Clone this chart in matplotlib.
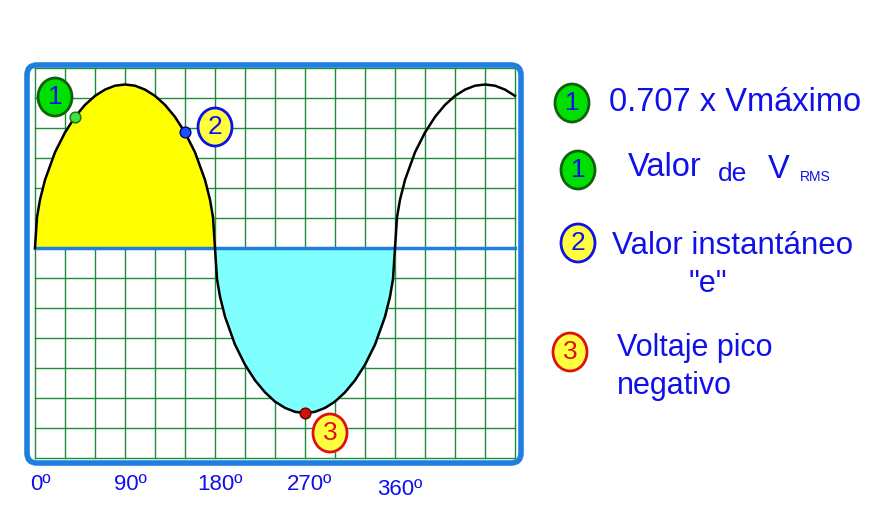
import matplotlib.pyplot as plt
import numpy as np
from matplotlib.patches import Ellipse, FancyBboxPatch

plt.rcParams['font.family'] = ['Liberation Sans', 'DejaVu Sans']

# wave samples (degrees, grid squares), denser near the zero crossings
deg = [0, 2, 5, 10, 20, 30, 40, 50, 60, 70, 80, 90,
       100, 110, 120, 130, 140, 150, 160, 170, 175, 178, 180,
       182, 185, 190, 200, 210, 220, 230, 240, 250, 260, 270,
       280, 290, 300, 310, 320, 330, 340, 350, 355, 358, 360,
       362, 365, 370, 380, 390, 400, 410, 420, 430, 440, 450,
       460, 470, 480]
volt = [0, 1.02, 1.61, 2.27, 3.19, 3.85, 4.37, 4.77, 5.07, 5.28, 5.41, 5.45,
        5.41, 5.28, 5.07, 4.77, 4.37, 3.85, 3.19, 2.27, 1.61, 1.02, 0,
        -1.03, -1.62, -2.29, -3.22, -3.89, -4.41, -4.81, -5.12, -5.33, -5.46, -5.5,
        -5.46, -5.33, -5.12, -4.81, -4.41, -3.89, -3.22, -2.29, -1.62, -1.03, 0,
        1.02, 1.61, 2.27, 3.19, 3.85, 4.37, 4.77, 5.07, 5.28, 5.41, 5.45,
        5.41, 5.28, 5.07]
tick_pos = [0, 90, 180, 270, 360]
tick_lab = ['0º', '90º', '180º', '270º', '360º']

deg = np.array(deg)
volt = np.array(volt)
BLUE = '#1010E8'

fig = plt.figure(figsize=(8.84, 5.18), dpi=100)
ax = fig.add_axes([0, 0, 1, 1])
ax.set_xlim(-35, 849)
ax.set_ylim(-9, 248 / 30)
ax.axis('off')

def px(x, y):
    return x - 35, (248 - y) / 30

# frame
ax.add_patch(FancyBboxPatch(px(27, 463), 494, (463 - 65) / 30,
                            boxstyle='round,pad=0,rounding_size=10',
                            mutation_aspect=1 / 30, fill=False,
                            ec='#1E7FE0', lw=4, zorder=6))
for gx in range(0, 481, 30):
    ax.plot([gx, gx], [-7, 6], color='#1E8C3A', lw=1, zorder=1)
for gy in range(-7, 7):
    ax.plot([0, 480], [gy, gy], color='#1E8C3A', lw=1, zorder=1)

m = deg <= 180
ax.fill_between(deg[m], volt[m], 0, color='#FFFF00', zorder=2)
m = (deg >= 180) & (deg <= 360)
ax.fill_between(deg[m], volt[m], 0, color='#80FFFF', zorder=2)
ax.plot([0, 480], [0, 0], color='#1E7FE0', lw=2.5, zorder=3)
ax.plot(deg, volt, color='black', lw=1.8, zorder=4)

i1 = list(deg).index(40)
i2 = list(deg).index(150)
i3 = list(deg).index(270)
ax.scatter([deg[i1]], [volt[i1]], s=60, c='#40E040', ec='#107010', zorder=5)
ax.scatter([deg[i2]], [volt[i2]], s=60, c='#1E50FF', ec='#000080', zorder=5)
ax.scatter([deg[i3]], [volt[i3]], s=60, c='#D01010', ec='#600000', zorder=5)

def badge(x, y, n, fc, ec, tc):
    cx, cy = px(x, y)
    ax.add_patch(Ellipse((cx, cy), 34, 38 / 30, fc=fc, ec=ec, lw=2, zorder=7))
    ax.text(cx, cy, n, color=tc, fontsize=19, ha='center', va='center', zorder=8)

badge(55, 97, '1', '#00E000', '#106010', BLUE)
badge(215, 127, '2', '#FFFF40', BLUE, BLUE)
badge(330, 433, '3', '#FFFF40', '#E01010', '#E01010')
badge(572, 103, '1', '#00E000', '#106010', BLUE)
badge(578, 170, '1', '#00E000', '#106010', BLUE)
badge(578, 243, '2', '#FFFF40', BLUE, BLUE)
badge(570, 352, '3', '#FFFF40', '#E01010', '#E01010')

def label(x, y, s, fs=23.5):
    ax.text(*px(x, y), s, color=BLUE, fontsize=fs, ha='left', va='center', zorder=8)

label(609, 103, '0.707 x Vmáximo')
label(628, 168, 'Valor')
label(718, 174, 'de', 19)
label(768, 170, 'V')
label(800, 177, 'RMS', 10)
label(612, 246, 'Valor instantáneo', 22.5)
label(688, 284, '"e"', 22)
label(617, 348, 'Voltaje pico', 22)
label(617, 386, 'negativo', 22)

for p, t in zip(tick_pos, tick_lab):
    off = 5 if p == 360 else 0
    ax.text(p + 5, (248 - 485 - off) / 30, t, color=BLUE, fontsize=16,
            ha='center', va='center')

fig.savefig('out.png', dpi=100)
